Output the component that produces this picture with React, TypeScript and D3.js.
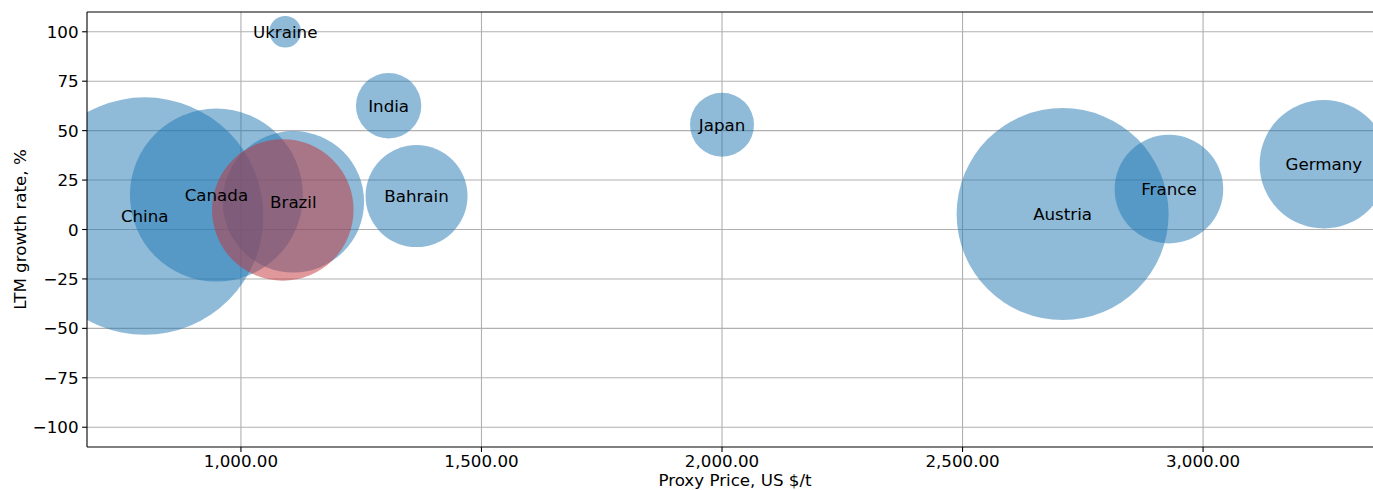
import React from "react";
import * as d3 from "d3";

const countries = ["China", "Canada", "Brazil", "Ukraine", "India", "Bahrain", "Japan", "Austria", "France", "Germany"];
const proxyPrice = [800, 949, 1109, 1092, 1307, 1365, 2000, 2708, 2929, 3251];
const growthRate = [6.8, 17.4, 14.0, 100, 62.6, 16.9, 53, 7.8, 20.4, 33];
const volume = [14090, 7482, 5000, 250, 1069, 2601, 1024, 11236, 2948, 4122];

const highlightName = ["Brazil"];
const highlightPrice = [1087];
const highlightGrowth = [9.9];
const highlightVolume = [5010];

const xTicks = [1000, 1500, 2000, 2500, 3000];
const yTicks = [-100, -75, -50, -25, 0, 25, 50, 75, 100];

const W = 1373;
const H = 490;
const left = 87;
const top = 12;
const right = 1383;
const bottom = 447;

export default function App() {
  const x = d3.scaleLinear().domain([680, 3374]).range([left, right]);
  const y = d3.scaleLinear().domain([-110, 110]).range([bottom, top]);
  const r = d3.scaleSqrt().domain([0, d3.max(volume) as number]).range([0, 118.7]);
  const fmt = d3.format(",.2f");
  const yfmt = (v: number) => (v < 0 ? "\u2212" + Math.abs(v) : String(v));
  const font = "'DejaVu Sans', sans-serif";
  const fs = 16.7;

  return (
    <svg
      width={W}
      height={H}
      style={{ position: "absolute", left: 0, top: 0, background: "#fff" }}
      fontFamily={font}
    >
      <defs>
        <clipPath id="plot">
          <rect x={left} y={top} width={right - left} height={bottom - top} />
        </clipPath>
      </defs>
      <rect x={0} y={0} width={W} height={H} fill="#fff" />
      <g stroke="#b0b0b0" strokeWidth={1.1}>
        {xTicks.map((t) => (
          <line key={"gx" + t} x1={x(t)} x2={x(t)} y1={top} y2={bottom} />
        ))}
        {yTicks.map((t) => (
          <line key={"gy" + t} x1={left} x2={right} y1={y(t)} y2={y(t)} />
        ))}
      </g>
      <g clipPath="url(#plot)">
        {countries.map((c, i) => (
          <circle
            key={c}
            cx={x(proxyPrice[i])}
            cy={y(growthRate[i])}
            r={r(volume[i])}
            fill="#1f77b4"
            fillOpacity={0.5}
          />
        ))}
        {highlightName.map((c, i) => (
          <circle
            key={"h" + c}
            cx={x(highlightPrice[i])}
            cy={y(highlightGrowth[i])}
            r={r(highlightVolume[i])}
            fill="#c33237"
            fillOpacity={0.5}
          />
        ))}
        {countries.map((c, i) => (
          <text
            key={"t" + c}
            x={x(proxyPrice[i])}
            y={y(growthRate[i])}
            textAnchor="middle"
            dominantBaseline="central"
            fontSize={fs}
            fill="#000"
          >
            {c}
          </text>
        ))}
      </g>
      <g stroke="#000" strokeWidth={1.1}>
        <line x1={left} x2={left} y1={top} y2={bottom} />
        <line x1={left} x2={right} y1={top} y2={top} />
        <line x1={left} x2={right} y1={bottom} y2={bottom} />
        <line x1={right} x2={right} y1={top} y2={bottom} />
      </g>
      {xTicks.map((t) => (
        <g key={"xt" + t} transform={`translate(${x(t)},${bottom})`}>
          <line y1={0} y2={4.9} stroke="#000" strokeWidth={1.1} />
          <text y={19.5} textAnchor="middle" fontSize={fs} fill="#000">
            {fmt(t)}
          </text>
        </g>
      ))}
      {yTicks.map((t) => (
        <g key={"yt" + t} transform={`translate(${left},${y(t)})`}>
          <line x1={0} x2={-4.9} stroke="#000" strokeWidth={1.1} />
          <text x={-8.4} textAnchor="end" dominantBaseline="central" fontSize={fs} fill="#000">
            {yfmt(t)}
          </text>
        </g>
      ))}
      <text x={(left + right) / 2} y={486} textAnchor="middle" fontSize={fs} fill="#000">
        Proxy Price, US $/t
      </text>
      <text
        transform={`translate(${20},${(top + bottom) / 2}) rotate(-90)`}
        textAnchor="middle"
        dominantBaseline="central"
        fontSize={fs}
        fill="#000"
      >
        LTM growth rate, %
      </text>
    </svg>
  );
}
